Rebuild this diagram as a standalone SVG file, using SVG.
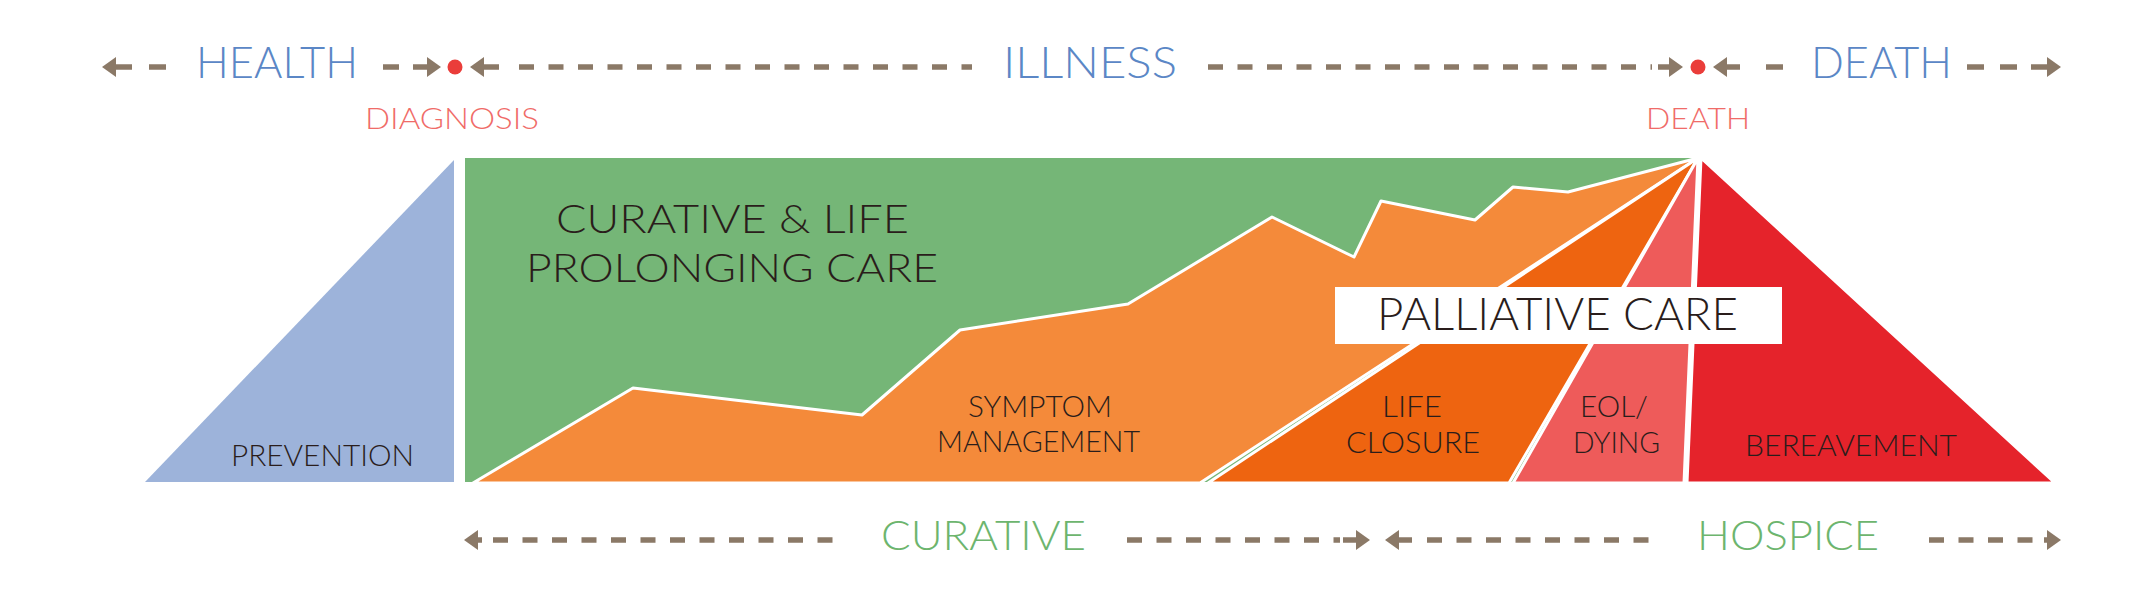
<svg xmlns="http://www.w3.org/2000/svg" xmlns:xlink="http://www.w3.org/1999/xlink" width="2142" height="598" viewBox="0 0 2142 598">
<defs>
<style>
.t{font-family:Lato,"Open Sans","Liberation Sans",sans-serif;font-weight:300}
.phase{font-size:43px;fill:#5b87c6}
.event{font-size:30px;fill:#f06b68}
.care{font-size:42px;fill:#6db56e}
.lab{fill:#2a1d1b}
.dash{stroke:#8b7967;stroke-width:5.5;fill:none;stroke-dasharray:15 14.5}
.shaft{stroke:#8b7967;stroke-width:5.5;fill:none}
.ah{fill:#8b7967}
.dot{fill:#ea3d3a}
.reg{stroke:#fff;stroke-width:3;stroke-linejoin:round}
</style>
<path id="ahR" d="M0,0 L-14,-10 L-14,10 Z"/>
</defs>
<rect width="2142" height="598" fill="#fff"/>

<g id="timeline-top">
  <line class="shaft" x1="112" y1="67" x2="132" y2="67"/>
  <use href="#ahR" class="ah" transform="translate(102,67) scale(-1,1)"/>
  <line class="shaft" x1="149" y1="67" x2="166" y2="67"/>
  <text class="t phase" x="196" y="78" textLength="162" lengthAdjust="spacingAndGlyphs">HEALTH</text>
  <line class="shaft" x1="383" y1="67" x2="399" y2="67"/>
  <line class="shaft" x1="413" y1="67" x2="430" y2="67"/>
  <use href="#ahR" class="ah" transform="translate(441,67)"/>
  <circle class="dot" cx="455" cy="67" r="7.5"/>
  <use href="#ahR" class="ah" transform="translate(470,67) scale(-1,1)"/>
  <line class="shaft" x1="482" y1="67" x2="499" y2="67"/>
  <line class="dash" x1="519" y1="67" x2="972" y2="67"/>
  <text class="t phase" x="1003" y="78" textLength="174" lengthAdjust="spacingAndGlyphs">ILLNESS</text>
  <line class="dash" x1="1208" y1="67" x2="1652" y2="67"/>
  <line class="shaft" x1="1658" y1="67" x2="1672" y2="67"/>
  <use href="#ahR" class="ah" transform="translate(1683,67)"/>
  <circle class="dot" cx="1698" cy="67" r="7.5"/>
  <use href="#ahR" class="ah" transform="translate(1713,67) scale(-1,1)"/>
  <line class="shaft" x1="1725" y1="67" x2="1740" y2="67"/>
  <line class="shaft" x1="1766" y1="67" x2="1783" y2="67"/>
  <text class="t phase" x="1811" y="78" textLength="141" lengthAdjust="spacingAndGlyphs">DEATH</text>
  <line class="shaft" x1="1967" y1="67" x2="1984" y2="67"/>
  <line class="shaft" x1="2000" y1="67" x2="2017" y2="67"/>
  <line class="shaft" x1="2031" y1="67" x2="2050" y2="67"/>
  <use href="#ahR" class="ah" transform="translate(2061,67)"/>
</g>

<g id="diagnosis">
  <text class="t event" x="365" y="129" textLength="174" lengthAdjust="spacingAndGlyphs">DIAGNOSIS</text>
</g>
<g id="death-event">
  <text class="t event" x="1646" y="129" textLength="104" lengthAdjust="spacingAndGlyphs">DEATH</text>
</g>

<g id="prevention">
  <polygon points="454,160 454,482 145,482" fill="#9db3da"/>
  <text class="t lab" x="231" y="466" font-size="30" textLength="183" lengthAdjust="spacingAndGlyphs">PREVENTION</text>
</g>

<g id="curative-life-prolonging">
  <polygon points="465,158 1698,158 1515,482 465,482" fill="#75b677"/>
  <text class="t lab" x="556" y="233" font-size="40" textLength="353" lengthAdjust="spacingAndGlyphs">CURATIVE &amp; LIFE</text>
  <text class="t lab" x="526" y="282" font-size="40" textLength="412" lengthAdjust="spacingAndGlyphs">PROLONGING CARE</text>
</g>

<g id="symptom-management">
  <polygon class="reg" points="473,483 633,388 862,415 960,330 1128,304 1272,217 1354,257 1381,201 1475,220 1513,187 1568,192 1698,158 1200,483" fill="#f48a3a"/>
  <text class="t lab" x="968" y="417" font-size="30" textLength="144" lengthAdjust="spacingAndGlyphs">SYMPTOM</text>
  <text class="t lab" x="937" y="452" font-size="30" textLength="203" lengthAdjust="spacingAndGlyphs">MANAGEMENT</text>
</g>

<g id="life-closure">
  <polygon class="reg" points="1698,158 1509,483 1208,483" fill="#ee6410"/>
  <text class="t lab" x="1382" y="417" font-size="30" textLength="60" lengthAdjust="spacingAndGlyphs">LIFE</text>
  <text class="t lab" x="1346" y="453" font-size="30" textLength="134" lengthAdjust="spacingAndGlyphs">CLOSURE</text>
</g>

<g id="eol-dying">
  <polygon class="reg" points="1698,158 1684,483 1513,483" fill="#ee5b5a"/>
  <text class="t lab" x="1580" y="417" font-size="30" textLength="68" lengthAdjust="spacingAndGlyphs">EOL/</text>
  <text class="t lab" x="1573" y="453" font-size="30" textLength="87" lengthAdjust="spacingAndGlyphs">DYING</text>
</g>

<g id="bereavement">
  <polygon class="reg" points="1701,158 2055,483 1687,483" fill="#e5232b"/>
  <text class="t lab" x="1745" y="456" font-size="30" textLength="212" lengthAdjust="spacingAndGlyphs">BEREAVEMENT</text>
</g>

<g id="palliative-care">
  <rect x="1335" y="287" width="447" height="57" fill="#fff"/>
  <text class="t lab" x="1377" y="330" font-size="46" textLength="361" lengthAdjust="spacingAndGlyphs">PALLIATIVE CARE</text>
</g>

<g id="timeline-bottom">
  <use href="#ahR" class="ah" transform="translate(464,540) scale(-1,1)"/>
  <line class="shaft" x1="476" y1="540" x2="482" y2="540"/>
  <line class="dash" x1="493" y1="540" x2="836" y2="540"/>
  <text class="t care" x="881" y="550" textLength="205" lengthAdjust="spacingAndGlyphs">CURATIVE</text>
  <line class="dash" x1="1127" y1="540" x2="1340" y2="540"/>
  <line class="shaft" x1="1343" y1="540" x2="1360" y2="540"/>
  <use href="#ahR" class="ah" transform="translate(1370,540)"/>
  <use href="#ahR" class="ah" transform="translate(1385,540) scale(-1,1)"/>
  <line class="shaft" x1="1396" y1="540" x2="1412" y2="540"/>
  <line class="dash" x1="1427" y1="540" x2="1650" y2="540"/>
  <text class="t care" x="1697" y="550" textLength="182" lengthAdjust="spacingAndGlyphs">HOSPICE</text>
  <line class="dash" x1="1929" y1="540" x2="2044" y2="540"/>
  <line class="shaft" x1="2044" y1="540" x2="2050" y2="540"/>
  <use href="#ahR" class="ah" transform="translate(2061,540)"/>
</g>
</svg>
